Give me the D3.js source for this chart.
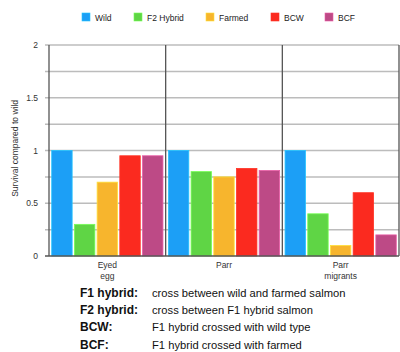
<!DOCTYPE html>
<html>
<head>
<meta charset="utf-8">
<script src="https://cdn.jsdelivr.net/npm/d3@7"></script>
<style>
  body { margin: 0; background: #fff; }
  text { font-family: "Liberation Sans", Arial, sans-serif; }
</style>
</head>
<body>
<div class="chart"></div>
<script>
var w = 400;
var h = 352;

// Data
var stages = ["Eyed egg", "Parr", "Parr migrants"];
var stageLines = [["Eyed", "egg"], ["Parr"], ["Parr", "migrants"]];
var groups = ["Wild", "F2 Hybrid", "Farmed", "BCW", "BCF"];
var colors = ["#1c9ff6", "#5fd545", "#f7b52d", "#fb2a1f", "#bd4a86"];
var wildVals   = [1.0, 1.0, 1.0];
var f2Vals     = [0.30, 0.80, 0.40];
var farmedVals = [0.70, 0.75, 0.10];
var bcwVals    = [0.95, 0.83, 0.60];
var bcfVals    = [0.95, 0.81, 0.20];
var yTicks = [0, 0.5, 1, 1.5, 2];
var gridTicks = [0.25, 0.5, 0.75, 1, 1.25, 1.5, 1.75, 2];
var notes = [
  ["F1 hybrid:", "cross between wild and farmed salmon"],
  ["F2 hybrid:", "cross between F1 hybrid salmon"],
  ["BCW:", "F1 hybrid crossed with wild type"],
  ["BCF:", "F1 hybrid crossed with farmed"]
];

var series = [wildVals, f2Vals, farmedVals, bcwVals, bcfVals];

var margin = { top: 45, left: 49, right: 1, bottom: 96 };
var plotW = w - margin.left - margin.right;
var plotH = h - margin.top - margin.bottom;

var svg = d3.select(".chart")
    .append("svg")
    .attr("width", w)
    .attr("height", h);

var x0 = d3.scaleBand()
    .domain(stages)
    .range([margin.left, margin.left + plotW]);

var x1 = d3.scaleBand()
    .domain(groups)
    .range([0, x0.bandwidth()])
    .paddingInner(0.1)
    .paddingOuter(0.12);

var y = d3.scaleLinear()
    .domain([0, 2])
    .range([margin.top + plotH, margin.top]);

// gridlines
svg.append("g")
    .selectAll("line")
    .data(gridTicks)
    .enter()
    .append("line")
    .attr("x1", margin.left - 4)
    .attr("x2", margin.left + plotW)
    .attr("y1", d => y(d))
    .attr("y2", d => y(d))
    .attr("stroke", "#bcbcbc")
    .attr("stroke-width", 1.5);

// bars
stages.forEach((s, i) => {
    var g = svg.append("g").attr("transform", "translate(" + x0(s) + ",0)");
    g.selectAll("rect")
        .data(groups.map((grp, j) => ({ grp: grp, v: series[j][i], c: colors[j] })))
        .enter()
        .append("rect")
        .attr("x", d => x1(d.grp))
        .attr("width", x1.bandwidth())
        .attr("y", d => y(d.v))
        .attr("height", d => y(0) - y(d.v))
        .attr("fill", d => d.c)
        .attr("stroke", d => d3.color(d.c).brighter(0.6))
        .attr("stroke-width", 0.8);
});

// category separators
svg.append("g")
    .selectAll("line")
    .data(stages.slice(1))
    .enter()
    .append("line")
    .attr("x1", d => x0(d))
    .attr("x2", d => x0(d))
    .attr("y1", y(2))
    .attr("y2", y(0))
    .attr("stroke", "#555")
    .attr("stroke-width", 1.3);

// axes lines
svg.append("line")
    .attr("x1", margin.left).attr("x2", margin.left)
    .attr("y1", y(2)).attr("y2", y(0))
    .attr("stroke", "#555").attr("stroke-width", 1.3);
svg.append("line")
    .attr("x1", margin.left + plotW).attr("x2", margin.left + plotW)
    .attr("y1", y(2)).attr("y2", y(0))
    .attr("stroke", "#555").attr("stroke-width", 1.3);
svg.append("line")
    .attr("x1", margin.left - 4).attr("x2", margin.left + plotW)
    .attr("y1", y(0)).attr("y2", y(0))
    .attr("stroke", "#555").attr("stroke-width", 1.3);

// y tick labels
svg.append("g")
    .selectAll("text")
    .data(yTicks)
    .enter()
    .append("text")
    .attr("x", margin.left - 11)
    .attr("y", d => y(d) + 3)
    .attr("text-anchor", "end")
    .attr("font-size", 8.5)
    .attr("fill", "#333")
    .text(d => d);

// y axis title
svg.append("text")
    .attr("transform", "translate(18," + (margin.top + plotH * 0.49) + ") rotate(-90)")
    .attr("text-anchor", "middle")
    .attr("font-size", 8.5)
    .attr("fill", "#333")
    .text("Survival compared to wild");

// x labels
stages.forEach((s, i) => {
    var t = svg.append("text")
        .attr("x", x0(s) + x0.bandwidth() / 2)
        .attr("y", y(0) + 12)
        .attr("text-anchor", "middle")
        .attr("font-size", 8.5)
        .attr("fill", "#333");
    stageLines[i].forEach((ln, k) => {
        t.append("tspan")
            .attr("x", x0(s) + x0.bandwidth() / 2)
            .attr("dy", k === 0 ? 0 : 11)
            .text(ln);
    });
});

// legend
var legendX = [82, 134, 206, 271, 325];
var legend = svg.append("g")
    .selectAll("g")
    .data(groups)
    .enter()
    .append("g")
    .attr("transform", (d, i) => "translate(" + legendX[i] + ",13)");
legend.append("rect")
    .attr("width", 8)
    .attr("height", 8)
    .attr("fill", (d, i) => colors[i])
    .attr("stroke", (d, i) => d3.color(colors[i]).brighter(0.6))
    .attr("stroke-width", 0.6);
legend.append("text")
    .attr("x", 13)
    .attr("y", 7.5)
    .attr("font-size", 8.5)
    .attr("fill", "#222")
    .text(d => d);

// footnotes
var noteG = svg.append("g")
    .selectAll("g")
    .data(notes)
    .enter()
    .append("g")
    .attr("transform", (d, i) => "translate(0," + (297 + i * 17.2) + ")");
noteG.append("text")
    .attr("x", 80)
    .attr("font-size", 12)
    .attr("font-weight", "bold")
    .attr("fill", "#111")
    .text(d => d[0]);
noteG.append("text")
    .attr("x", 152)
    .attr("font-size", 11.2)
    .attr("fill", "#111")
    .text(d => d[1]);
</script>
</body>
</html>
